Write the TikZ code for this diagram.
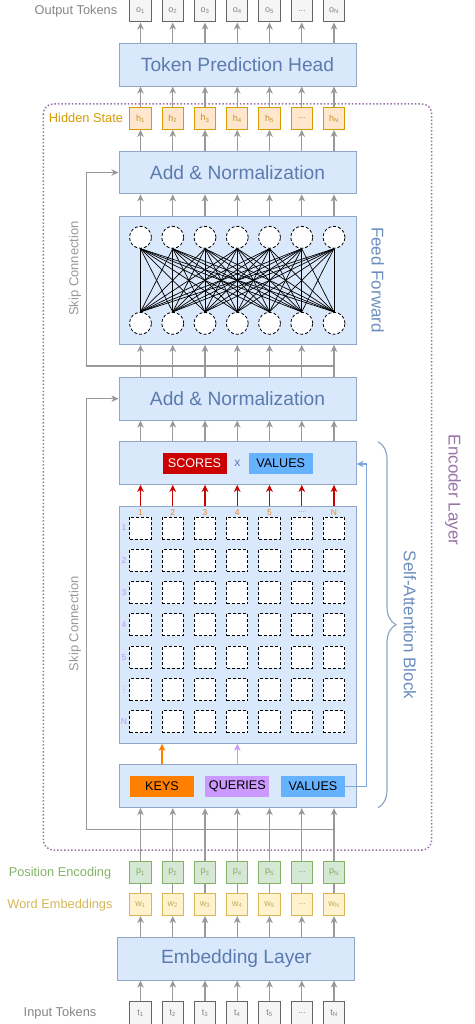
\documentclass[tikz,border=0pt]{standalone}
\usepackage{fontspec}
\setmainfont{Liberation Sans}
\newfontfamily\symfont{DejaVu Sans}
\usetikzlibrary{arrows.meta,decorations.pathreplacing}

\definecolor{boxblue}{HTML}{DAE8FC}
\definecolor{boxline}{HTML}{8FA6C6}
\definecolor{textblue}{HTML}{5B7BAE}
\definecolor{titleblue}{HTML}{6C8EBF}
\definecolor{arrowgray}{HTML}{999999}
\definecolor{framepurple}{HTML}{9673A6}
\definecolor{tokfill}{HTML}{F5F5F5}
\definecolor{tokline}{HTML}{666666}
\definecolor{hidfill}{HTML}{FFE6CC}
\definecolor{hidline}{HTML}{D79B00}
\definecolor{posfill}{HTML}{D5E8D4}
\definecolor{posline}{HTML}{82B366}
\definecolor{wrdfill}{HTML}{FFF2CC}
\definecolor{wrdline}{HTML}{D6B656}
\definecolor{scorered}{HTML}{CC0000}
\definecolor{valblue}{HTML}{66B2FF}
\definecolor{keyorange}{HTML}{FF8000}
\definecolor{querypurple}{HTML}{CC99FF}
\definecolor{colorange}{HTML}{EE8A1C}
\definecolor{rowpurple}{HTML}{B49CEE}
\definecolor{linkblue}{HTML}{7EA6E0}

\newcommand{\setfs}[1]{\fontsize{#1}{#1}\selectfont}
% label of column #1: 1..5, dots, N
\newcommand{\idx}[1]{\ifnum#1=6 ...\else\ifnum#1=7 N\else#1\fi\fi}
\newcommand{\tokt}[2]{\ifnum#2=6 ...\else#1\textsubscript{\idx{#2}}\fi}

\begin{document}
\begin{tikzpicture}[x=1pt,y=-1pt,
	bigbox/.style={draw=boxline,fill=boxblue,line width=1pt,minimum width=237pt,minimum height=42.7pt,inner sep=0pt,text=textblue,font=\setfs{19.2}},
	tok/.style={draw=#1,line width=1pt,minimum width=21.3pt,minimum height=22pt,inner sep=0pt,font=\setfs{9}},
	tag/.style={minimum width=64pt,minimum height=21pt,inner sep=0pt,font=\setfs{12.6}},
	cell/.style={draw=black,fill=white,dash pattern=on 3pt off 2pt,line width=1pt,minimum width=21.3pt,minimum height=22pt,inner sep=0pt},
	neuron/.style={circle,draw=black,fill=white,dash pattern=on 3pt off 2pt,line width=0.8pt,minimum size=22pt,inner sep=0pt},
	rowname/.style={font=\setfs{12.8}},
	sidetitle/.style={font=\setfs{17},rotate=-90},
	arr/.style={draw=arrowgray,line width=1.3pt,-{Stealth[length=7pt,width=6.5pt,inset=2pt]}},
	plainline/.style={draw=arrowgray,line width=1.3pt}]
	\useasboundingbox (0,0) rectangle (474,1024);

	% encoder layer frame
	\draw[framepurple,dotted,line width=1.5pt,rounded corners=10pt] (43.3,104) rectangle (431.7,850);
	\node[sidetitle,text=framepurple] (enc) at (453,490) {Encoder Layer};

	% blocks
	\node[bigbox] (head) at (237.5,64.7) {Token Prediction Head};
	\node[bigbox] (an2) at (237.5,172.5) {Add \& Normalization};
	\node[bigbox,minimum height=128.3pt] (ff) at (237.5,280.2) {};
	\node[bigbox] (an1) at (237.5,398.7) {Add \& Normalization};
	\node[bigbox] (sv) at (237.5,463) {};
	\node[bigbox,minimum height=236.6pt] (grid) at (237.5,625) {};
	\node[bigbox] (kqv) at (237.5,786.3) {};
	\node[bigbox] (emb) at (236.3,958.7) {Embedding Layer};

	\node[tag,fill=scorered,text=white] (scores) at (194.5,463) {SCORES};
	\node[text=textblue,font=\setfs{12}] (times) at (237.3,463) {x};
	\node[tag,fill=valblue] (vals) at (280.7,463) {VALUES};
	\node[tag,fill=keyorange] (keys) at (162,786.4) {KEYS};
	\node[tag,fill=querypurple] (queries) at (237.3,786.4) {QUERIES};
	\node[tag,fill=valblue] (values) at (313,786.4) {VALUES};

	% side labels
	\node[rowname,text=tokline!80] (outlab) at (76,11) {Output Tokens};
	\node[rowname,text=hidline] (hidlab) at (86,118) {Hidden State};
	\node[rowname,text=posline] (poslab) at (60,873) {Position Encoding};
	\node[rowname,text=wrdline] (wrdlab) at (60,905) {Word Embeddings};
	\node[rowname,text=tokline!80] (inlab) at (60,1013) {Input Tokens};
	\node[sidetitle,text=titleblue] (fflab) at (377.7,280) {Feed Forward};
	\node[sidetitle,text=titleblue] (salab) at (410,625) {Self-Attention Block};
	\node[font=\setfs{13},text=arrowgray,rotate=90] (sk2lab) at (75,268.5) {Skip Connection};
	\node[font=\setfs{13},text=arrowgray,rotate=90] (sk1lab) at (75,623.7) {Skip Connection};

	% one column per token
	\foreach \i [evaluate=\i as \cx using 140.5+32.25*(\i-1)] in {1,...,7}{
		\node[tok=tokline,fill=tokfill,text=tokline!80] (o\i) at (\cx,11) {\tokt{o}{\i}};
		\node[tok=hidline,fill=hidfill,text=hidline!70!gray] (h\i) at (\cx,118.3) {\tokt{h}{\i}};
		\node[neuron] (ft\i) at (\cx,237.3) {};
		\node[neuron] (fb\i) at (\cx,323.3) {};
		\node[font=\setfs{8.5},text=colorange] (c\i) at (\cx,512.3) {\idx{\i}};
		\foreach \r in {1,...,7}
			\node[cell] (g\r\i) at (\cx,{528+32.33*(\r-1)}) {};
		\node[tok=posline,fill=posfill,text=posline!80!gray] (p\i) at (\cx,872.5) {\tokt{p}{\i}};
		\node[tok=wrdline,fill=wrdfill,text=wrdline!80!gray] (w\i) at (\cx,904.5) {\tokt{w}{\i}};
		\node[tok=tokline,fill=tokfill,text=tokline!80,minimum height=24pt] (t\i) at (\cx,1013) {\tokt{t}{\i}};
	}
	\foreach \r in {1,...,7}
		\node[font=\setfs{8.5},text=rowpurple,inner sep=1pt] (r\r) at (124,{528+32.33*(\r-1)}) {\ifnum\r=6 {\symfont ⋮}\else\idx{\r}\fi};

	% dense layer
	\foreach \i in {1,...,7}
		\foreach \j in {1,...,7}
			\draw[black,line width=0.7pt] (fb\j.north) -- (ft\i.south);

	% vertical connections
	\foreach \i in {1,...,7}{
		\draw[arr] (head.north -| o\i) -- (o\i.south);
		\draw[arr] (h\i.north) -- (h\i |- head.south);
		\draw[arr] (an2.north -| h\i) -- (h\i.south);
		\draw[arr] (ff.north -| h\i) -- (h\i |- an2.south);
		\draw[arr] (an1.north -| h\i) -- (h\i |- ff.south);
		\draw[arr] (sv.north -| h\i) -- (h\i |- an1.south);
		\draw[draw=scorered,line width=1.3pt,-{Stealth[length=7pt,width=6.5pt,inset=2pt]}] (c\i |- grid.north) -- (c\i |- sv.south);
		\draw[arr] (p\i.north) -- (p\i |- kqv.south);
		\draw[plainline] (w\i.north) -- (p\i.south);
		\draw[arr] (emb.north -| w\i) -- (w\i.south);
		\draw[arr] (t\i.north) -- (t\i |- emb.south);
	}
	\draw[draw=keyorange,line width=1.3pt,-{Stealth[length=7pt,width=6.5pt,inset=2pt]}] (keys |- kqv.north) -- (keys |- grid.south);
	\draw[draw=querypurple,line width=1.3pt,-{Stealth[length=7pt,width=6.5pt,inset=2pt]}] (queries |- kqv.north) -- (queries |- grid.south);

	% skip connections
	\coordinate (sk2) at (86.7,366);
	\coordinate (sk1) at (86.7,829.3);
	\draw[arr] (sk2 -| h7) -- (sk2) |- (an2.west);
	\draw[arr] (sk1 -| h7) -- (sk1) |- (an1.west);

	% values bypass
	\coordinate (vr) at (366.7,464);
	\draw[draw=linkblue,line width=1.2pt,-{Stealth[length=7pt,width=6.5pt,inset=2pt]}] (values.east) -| (vr) -- (vr -| sv.east);

	% brace
	\coordinate (bt) at (378,441.7);
	\coordinate (bb) at (378,807.7);
	\draw[boxline,line width=1.2pt,decorate,decoration={brace,amplitude=18pt}] (bt) -- (bb);
\end{tikzpicture}
\end{document}
